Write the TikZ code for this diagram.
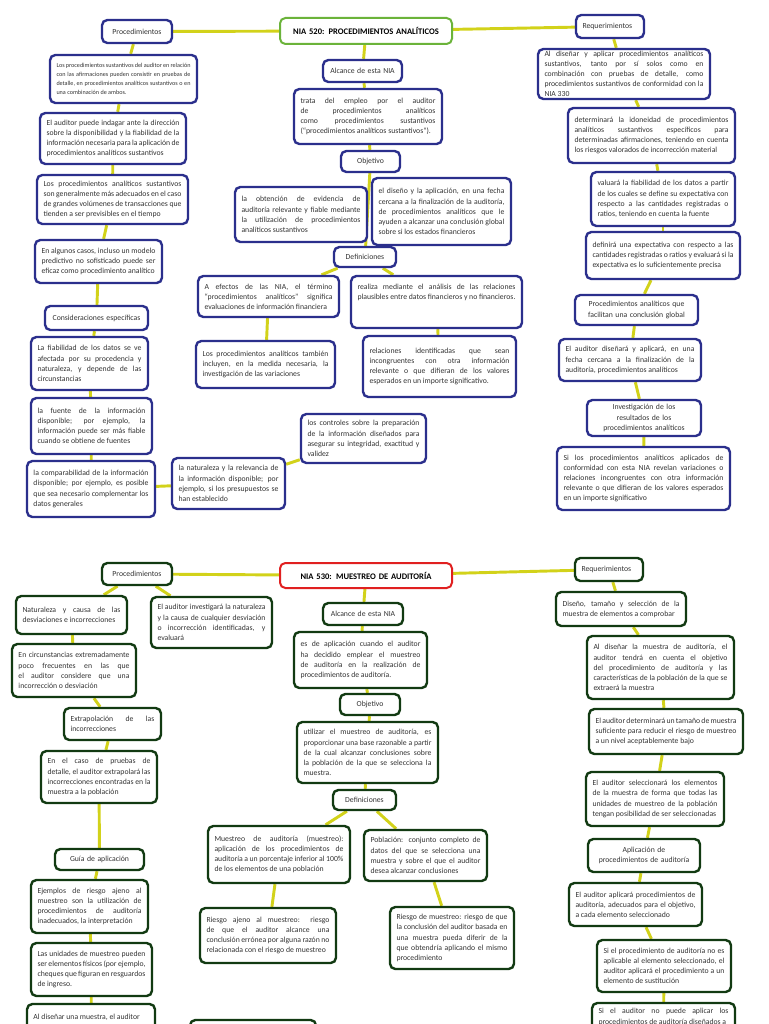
\documentclass[tikz,border=0pt]{standalone}
\usepackage{fontspec}
\setmainfont{Carlito}
\usetikzlibrary{backgrounds}
\hyphenpenalty=10000
\exhyphenpenalty=10000
\definecolor{nv}{HTML}{2B2F8C}
\definecolor{dg}{HTML}{123A12}
\definecolor{yl}{HTML}{D2D21A}
\definecolor{tg}{HTML}{6BB33A}
\definecolor{tr}{HTML}{E02020}
\tikzset{
 bxs/.style={draw, rounded corners=4pt, line width=1.8pt, fill=white, inner sep=0pt, align=justify, font=\fontsize{5.8}{7.6}\selectfont, text=black!80},
 blu/.style={bxs, draw=nv},
 grn/.style={bxs, draw=dg},
 ctr/.style={align=center},
 sml/.style={font=\fontsize{4.6}{6.6}\selectfont},
 ttl/.style={bxs, line width=1.5pt, align=center, font=\bfseries\fontsize{6.4}{8}\selectfont, text=black},
 lk/.style={draw=yl, line width=2.2pt}
}
\newcommand\bx[7]{%
 \pgfmathsetmacro\tw{(#5-#3-13)*0.75}%
 \node[#2, text width=\tw pt, minimum width={(#5-#3)*0.75pt}, minimum height={(#6-#4)*0.75pt}] (#1) at ({(#3+#5)/2},{(#4+#6)/2}) {#7};}
\begin{document}
\begin{tikzpicture}[x=0.75pt,y=-0.75pt]
\useasboundingbox (0,0) rectangle (768,1024);
% ===== NIA 520 =====
\bx{T}{ttl,draw=tg}{280}{18}{452}{44}{NIA 520: PROCEDIMIENTOS ANALÍTICOS}
\bx{P1}{blu,ctr}{102}{20}{172}{43}{Procedimientos}
\bx{R1}{blu}{576}{15}{644}{38}{Requerimientos}
\bx{a1}{blu,sml}{50}{55}{197}{103}{Los procedimientos sustantivos del auditor en relación con las afirmaciones pueden consistir en pruebas de detalle, en procedimientos analíticos sustantivos o en una combinación de ambos.}
\bx{a2}{blu}{40}{113}{186}{164}{El auditor puede indagar ante la dirección sobre la disponibilidad y la fiabilidad de la información necesaria para la aplicación de procedimientos analíticos sustantivos}
\bx{a3}{blu}{37}{175}{188}{224}{Los procedimientos analíticos sustantivos son generalmente más adecuados en el caso de grandes volúmenes de transacciones que tienden a ser previsibles en el tiempo}
\bx{a4}{blu}{35}{240}{162}{283}{En algunos casos, incluso un modelo predictivo no sofisticado puede ser eficaz como procedimiento analítico}
\bx{a5}{blu,ctr}{45}{306}{148}{330}{Consideraciones específicas}
\bx{a6}{blu}{31}{337}{148}{390}{La fiabilidad de los datos se ve afectada por su procedencia y naturaleza, y depende de las circunstancias}
\bx{a7}{blu}{31}{398}{152}{454}{la fuente de la información disponible; por ejemplo, la información puede ser más fiable cuando se obtiene de fuentes}
\bx{a8}{blu}{27}{461}{155}{517}{la comparabilidad de la información disponible; por ejemplo, es posible que sea necesario complementar los datos generales}
\bx{a9}{blu}{172}{458}{285}{509}{la naturaleza y la relevancia de la información disponible; por ejemplo, si los presupuestos se han establecido}
\bx{a10}{blu}{301}{414}{426}{463}{los controles sobre la preparación de la información diseñados para asegurar su integridad, exactitud y validez}
\bx{c1}{blu,ctr}{323}{60}{402}{82}{Alcance de esta NIA}
\bx{c2}{blu}{294}{89}{442}{144}{trata del empleo por el auditor de procedimientos analíticos como procedimientos sustantivos (``procedimientos analíticos sustantivos'').}
\bx{c3}{blu,ctr}{341}{151}{400}{172}{Objetivo}
\bx{c4}{blu}{235}{187}{367}{242}{la obtención de evidencia de auditoría relevante y fiable mediante la utilización de procedimientos analíticos sustantivos}
\bx{c5}{blu}{372}{178}{511}{245}{el diseño y la aplicación, en una fecha cercana a la finalización de la auditoría, de procedimientos analíticos que le ayuden a alcanzar una conclusión global sobre si los estados financieros}
\bx{c6}{blu,ctr}{334}{247}{396}{267}{Definiciones}
\bx{c7}{blu}{198}{276}{339}{317}{A efectos de las NIA, el término ``procedimientos analíticos'' significa evaluaciones de información financiera}
\bx{c8}{blu}{351}{276}{522}{328}{realiza mediante el análisis de las relaciones plausibles entre datos financieros y no financieros.\\[8pt]}
\bx{c9}{blu}{196}{341}{335}{388}{Los procedimientos analíticos también incluyen, en la medida necesaria, la investigación de las variaciones}
\bx{c10}{blu}{363}{336}{516}{397}{relaciones identificadas que sean incongruentes con otra información relevante o que difieran de los valores esperados en un importe significativo.}
\bx{r1}{blu}{538}{49}{710}{99}{Al diseñar y aplicar procedimientos analíticos sustantivos, tanto por sí solos como en combinación con pruebas de detalle, como procedimientos sustantivos de conformidad con la NIA 330}
\bx{r2}{blu}{568}{108}{735}{163}{determinará la idoneidad de procedimientos analíticos sustantivos específicos para determinadas afirmaciones, teniendo en cuenta los riesgos valorados de incorrección material}
\bx{r3}{blu}{591}{172}{735}{226}{valuará la fiabilidad de los datos a partir de los cuales se define su expectativa con respecto a las cantidades registradas o ratios, teniendo en cuenta la fuente}
\bx{r4}{blu}{586}{232}{740}{279}{definirá una expectativa con respecto a las cantidades registradas o ratios y evaluará si la expectativa es lo suficientemente precisa}
\bx{r5}{blu,ctr}{575}{295}{698}{325}{Procedimientos analíticos que facilitan una conclusión global}
\bx{r6}{blu}{559}{339}{701}{381}{El auditor diseñará y aplicará, en una fecha cercana a la finalización de la auditoría, procedimientos analíticos}
\bx{r7}{blu,ctr}{587}{400}{701}{436}{Investigación de los resultados de los procedimientos analíticos}
\bx{r8}{blu}{557}{447}{730}{510}{Si los procedimientos analíticos aplicados de conformidad con esta NIA revelan variaciones o relaciones incongruentes con otra información relevante o que difieran de los valores esperados en un importe significativo}
% ===== NIA 530 =====
\bx{T2}{ttl,draw=tr}{280}{563}{452}{588}{NIA 530: MUESTREO DE AUDITORÍA}
\bx{P2}{grn,ctr}{102}{563}{172}{585}{Procedimientos}
\bx{R2}{grn}{575}{558}{643}{581}{Requerimientos}
\bx{b1}{grn}{16}{596}{127}{634}{Naturaleza y causa de las desviaciones e incorrecciones}
\bx{b2}{grn}{151}{597}{272}{648}{El auditor investigará la naturaleza y la causa de cualquier desviación o incorrección identificadas, y evaluará}
\bx{b3}{grn}{12}{644}{136}{697}{En circunstancias extremadamente poco frecuentes en las que el auditor considere que una incorrección o desviación}
\bx{b4}{grn}{64}{708}{161}{740}{Extrapolación de las incorrecciones}
\bx{b5}{grn}{41}{751}{157}{803}{En el caso de pruebas de detalle, el auditor extrapolará las incorrecciones encontradas en la muestra a la población}
\bx{b6}{grn,ctr}{55}{849}{144}{870}{Guía de aplicación}
\bx{b7}{grn}{31}{880}{148}{933}{Ejemplos de riesgo ajeno al muestreo son la utilización de procedimientos de auditoría inadecuados, la interpretación}
\bx{b8}{grn}{31}{943}{152}{996}{Las unidades de muestreo pueden ser elementos físicos (por ejemplo, cheques que figuran en resguardos de ingreso.}
\bx{b9}{grn}{27}{1004}{155}{1060}{Al diseñar una muestra, el auditor\\ \phantom{x}\\ \phantom{x}\\ \phantom{x}}
\bx{b10}{grn}{190}{1020}{316}{1060}{}
\bx{d1}{grn,ctr}{323}{603}{403}{625}{Alcance de esta NIA}
\bx{d2}{grn}{294}{632}{427}{688}{es de aplicación cuando el auditor ha decidido emplear el muestreo de auditoría en la realización de procedimientos de auditoría.}
\bx{d3}{grn,ctr}{340}{694}{400}{715}{Objetivo}
\bx{d4}{grn}{297}{722}{438}{783}{utilizar el muestreo de auditoría, es proporcionar una base razonable a partir de la cual alcanzar conclusiones sobre la población de la que se selecciona la muestra.}
\bx{d5}{grn,ctr}{333}{790}{396}{810}{Definiciones}
\bx{d6}{grn}{208}{826}{350}{883}{Muestreo de auditoría (muestreo): aplicación de los procedimientos de auditoría a un porcentaje inferior al 100\% de los elementos de una población}
\bx{d7}{grn}{364}{830}{487}{881}{Población: conjunto completo de datos del que se selecciona una muestra y sobre el que el auditor desea alcanzar conclusiones}
\bx{d8}{grn}{200}{908}{336}{963}{Riesgo ajeno al muestreo: riesgo de que el auditor alcance una conclusión errónea por alguna razón no relacionada con el riesgo de muestreo}
\bx{d9}{grn}{390}{907}{514}{969}{Riesgo de muestreo: riesgo de que la conclusión del auditor basada en una muestra pueda diferir de la que obtendría aplicando el mismo procedimiento}
\bx{e1}{grn}{556}{592}{686}{626}{Diseño, tamaño y selección de la muestra de elementos a comprobar}
\bx{e2}{grn}{587}{636}{734}{699}{Al diseñar la muestra de auditoría, el auditor tendrá en cuenta el objetivo del procedimiento de auditoría y las características de la población de la que se extraerá la muestra}
\bx{e3}{grn}{589}{709}{743}{754}{El auditor determinará un tamaño de muestra suficiente para reducir el riesgo de muestreo a un nivel aceptablemente bajo}
\bx{e4}{grn}{586}{772}{724}{826}{El auditor seleccionará los elementos de la muestra de forma que todas las unidades de muestreo de la población tengan posibilidad de ser seleccionadas}
\bx{e5}{grn,ctr}{588}{839}{700}{872}{Aplicación de procedimientos de auditoría}
\bx{e6}{grn}{569}{883}{702}{926}{El auditor aplicará procedimientos de auditoría, adecuados para el objetivo, a cada elemento seleccionado}
\bx{e7}{grn}{597}{940}{731}{992}{Si el procedimiento de auditoría no es aplicable al elemento seleccionado, el auditor aplicará el procedimiento a un elemento de sustitución}
\bx{e8}{grn}{592}{1003}{735}{1060}{Si el auditor no puede aplicar los procedimientos de auditoría diseñados a\\ \phantom{x}\\ \phantom{x}\\ \phantom{x}}
\begin{scope}[on background layer]
\foreach \u/\v in {P1/T,T/R1,P1/a1,a1/a2,a2/a3,a3/a4,a4/a5,a5/a6,a6/a7,a7/a8,a8/a9,a9/a10,T/c1,c1/c2,c2/c3,c3/c6,c6/c7,c6/c8,c7/c9,c8/c10,R1/r1,r1/r2,r2/r3,r3/r4,r4/r5,r5/r6,r6/r7,r7/r8,
 P2/T2,T2/R2,P2/b1,P2/b2,b1/b3,b3/b4,b4/b5,b5/b6,b6/b7,b7/b8,b8/b9,T2/d1,d1/d2,d2/d3,d3/d4,d4/d5,d5/d6,d5/d7,d6/d8,d7/d9,R2/e1,e1/e2,e2/e3,e3/e4,e4/e5,e5/e6,e6/e7,e7/e8}
 \draw[lk] (\u) -- (\v);
\end{scope}
\end{tikzpicture}
\end{document}
